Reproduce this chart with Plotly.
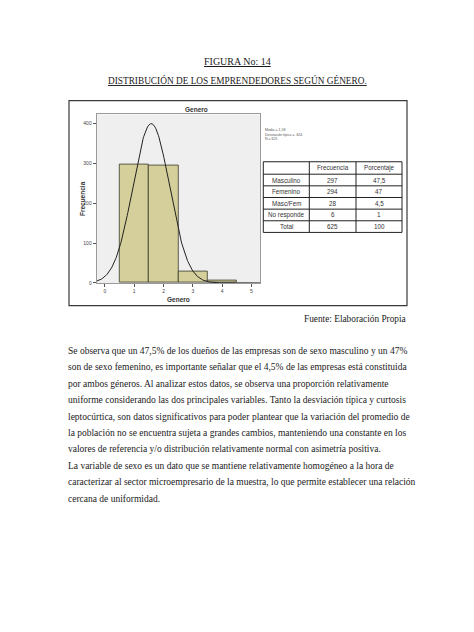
import numpy as np
import plotly.graph_objects as go

# page body has an 8px margin in the browser; the figure is sized and placed to compensate
OFF = 8
W, H = 474 - OFF, 632 - OFF

# ---- data ----
bin_centers = [1, 2, 3, 4]
frequencies = [297, 294, 28, 6]
stat_mean = 1.58
stat_sd = 0.624
stat_n = 625

x_ticks = [0, 1, 2, 3, 4, 5]
y_ticks = [0, 100, 200, 300, 400]

table_header = ["", "Frecuencia", "Porcentaje"]
table_rows = ["Masculino", "Femenino", "Masc/Fem", "No responde", "Total"]
table_freq = ["297", "294", "28", "6", "625"]
table_pct = ["47,5", "47", "4,5", "1", "100"]

body_lines = [
    "Se observa que un 47,5% de los dueños de las empresas son de sexo masculino y un 47%",
    "son de sexo femenino, es importante señalar que el 4,5% de las empresas está constituida",
    "por ambos géneros. Al analizar estos datos, se observa una proporción relativamente",
    "uniforme considerando las dos principales variables. Tanto la desviación típica y curtosis",
    "leptocúrtica, son datos significativos para poder plantear que la variación del promedio de",
    "la población no se encuentra sujeta a grandes cambios, manteniendo una constante en los",
    "valores de referencia y/o distribución relativamente normal con asimetría positiva.",
    "La variable de sexo es un dato que se mantiene relativamente homogéneo a la hora de",
    "caracterizar al sector microempresario de la muestra, lo que permite establecer una relación",
    "cercana de uniformidad.",
]


def px(x):
    return (x - OFF) / W


def py(y):
    return 1 - (y - OFF) / H


fig = go.Figure()

# histogram bars
fig.add_trace(go.Bar(
    x=bin_centers, y=frequencies, width=1.0,
    marker=dict(color="#D4CF9B", line=dict(color="#3a3a2a", width=0.8)),
    showlegend=False, hoverinfo="skip",
))

# fitted normal curve from the stats shown in the chart
xs = np.linspace(-0.28, 5.29, 300)
ys = stat_n * 1.0 / (stat_sd * np.sqrt(2 * np.pi)) * np.exp(-0.5 * ((xs - stat_mean) / stat_sd) ** 2)
fig.add_trace(go.Scatter(
    x=xs, y=ys, mode="lines", line=dict(color="#222222", width=1),
    showlegend=False, hoverinfo="skip",
))

fig.update_layout(
    width=W, height=H,
    margin=dict(l=0, r=0, t=0, b=0),
    paper_bgcolor="white",
    plot_bgcolor="#EFEFEF",
    bargap=0,
    xaxis=dict(
        domain=[px(96.7), px(260)],
        range=[-0.28, 5.29],
        tickvals=x_ticks, ticktext=[str(t) for t in x_ticks],
        ticks="outside", ticklen=3, tickcolor="#555555", tickwidth=0.7,
        tickfont=dict(family="Arial", size=5, color="#444444"),
        showgrid=False, zeroline=False,
        showline=True, linecolor="#9a9a9a", linewidth=1, mirror=True,
    ),
    yaxis=dict(
        domain=[py(284.3), py(115)],
        range=[0, 422.5],
        tickvals=y_ticks, ticktext=[str(t) for t in y_ticks],
        ticks="outside", ticklen=3, tickcolor="#555555", tickwidth=0.7,
        tickfont=dict(family="Arial", size=5, color="#444444"),
        showgrid=False, zeroline=False,
        showline=True, linecolor="#9a9a9a", linewidth=1, mirror=True,
    ),
)

shapes = [
    dict(type="rect", xref="paper", yref="paper",
         x0=px(69), x1=px(407), y0=py(307), y1=py(101),
         line=dict(color="#3a3a3a", width=1.2), fillcolor="rgba(0,0,0,0)", layer="below"),
]

# table grid
col_edges = [263.3, 309.3, 356.0, 402.0]
row_edges = [162.5, 175.0, 186.7, 198.4, 210.1, 221.8, 233.5]
for cx in col_edges:
    shapes.append(dict(type="line", xref="paper", yref="paper",
                       x0=px(cx), x1=px(cx), y0=py(row_edges[0]), y1=py(row_edges[-1]),
                       line=dict(color="#222222", width=1)))
for ry in row_edges:
    shapes.append(dict(type="line", xref="paper", yref="paper",
                       x0=px(col_edges[0]), x1=px(col_edges[-1]), y0=py(ry), y1=py(ry),
                       line=dict(color="#222222", width=1)))
fig.update_layout(shapes=shapes)

ann = []


def add_text(text, x, y, size, family="Arial", color="#333333", xanchor="center", **kw):
    ann.append(dict(text=text, x=px(x), y=py(y), xref="paper", yref="paper",
                    showarrow=False, xanchor=xanchor, yanchor="middle",
                    font=dict(family=family, size=size, color=color), **kw))


# table text
columns = [table_rows, table_freq, table_pct]
for ci in range(3):
    xc = (col_edges[ci] + col_edges[ci + 1]) / 2
    add_text(table_header[ci], xc, (row_edges[0] + row_edges[1]) / 2, 6.3)
    for ri, val in enumerate(columns[ci]):
        add_text(val, xc, (row_edges[ri + 1] + row_edges[ri + 2]) / 2, 6.3)

# page titles
add_text("<u>FIGURA No: 14</u>", 237.5, 62, 10, family="Liberation Serif", color="#1a1a1a")
add_text("<u>DISTRIBUCIÓN DE LOS EMPRENDEDORES SEGÚN GÉNERO.</u>", 237, 81, 9.3,
         family="Liberation Serif", color="#1a1a1a")
# chart title and axis titles
add_text("<b>Genero</b>", 196, 110, 6.5)
add_text("<b>Genero</b>", 178, 301, 6.5)
add_text("<b>Frecuencia</b>", 82, 200, 6.5, textangle=-90)
# stats legend
ann.append(dict(text="Media = 1,58<br>Desviación típica = ,624<br>N = 625",
                x=px(262.5), y=py(127), xref="paper", yref="paper",
                showarrow=False, xanchor="left", yanchor="top", align="left",
                font=dict(family="Arial", size=3.5, color="#555555")))
# source
add_text("Fuente: Elaboración Propia", 408, 320, 9.3, family="Liberation Serif",
         color="#1a1a1a", xanchor="right")
# body text
for i, line in enumerate(body_lines):
    add_text(line, 65.5, 352.5 + i * 16.5, 9.5, family="Liberation Serif",
             color="#1a1a1a", xanchor="left")
fig.update_layout(annotations=ann)

fig.write_html("out.html")
